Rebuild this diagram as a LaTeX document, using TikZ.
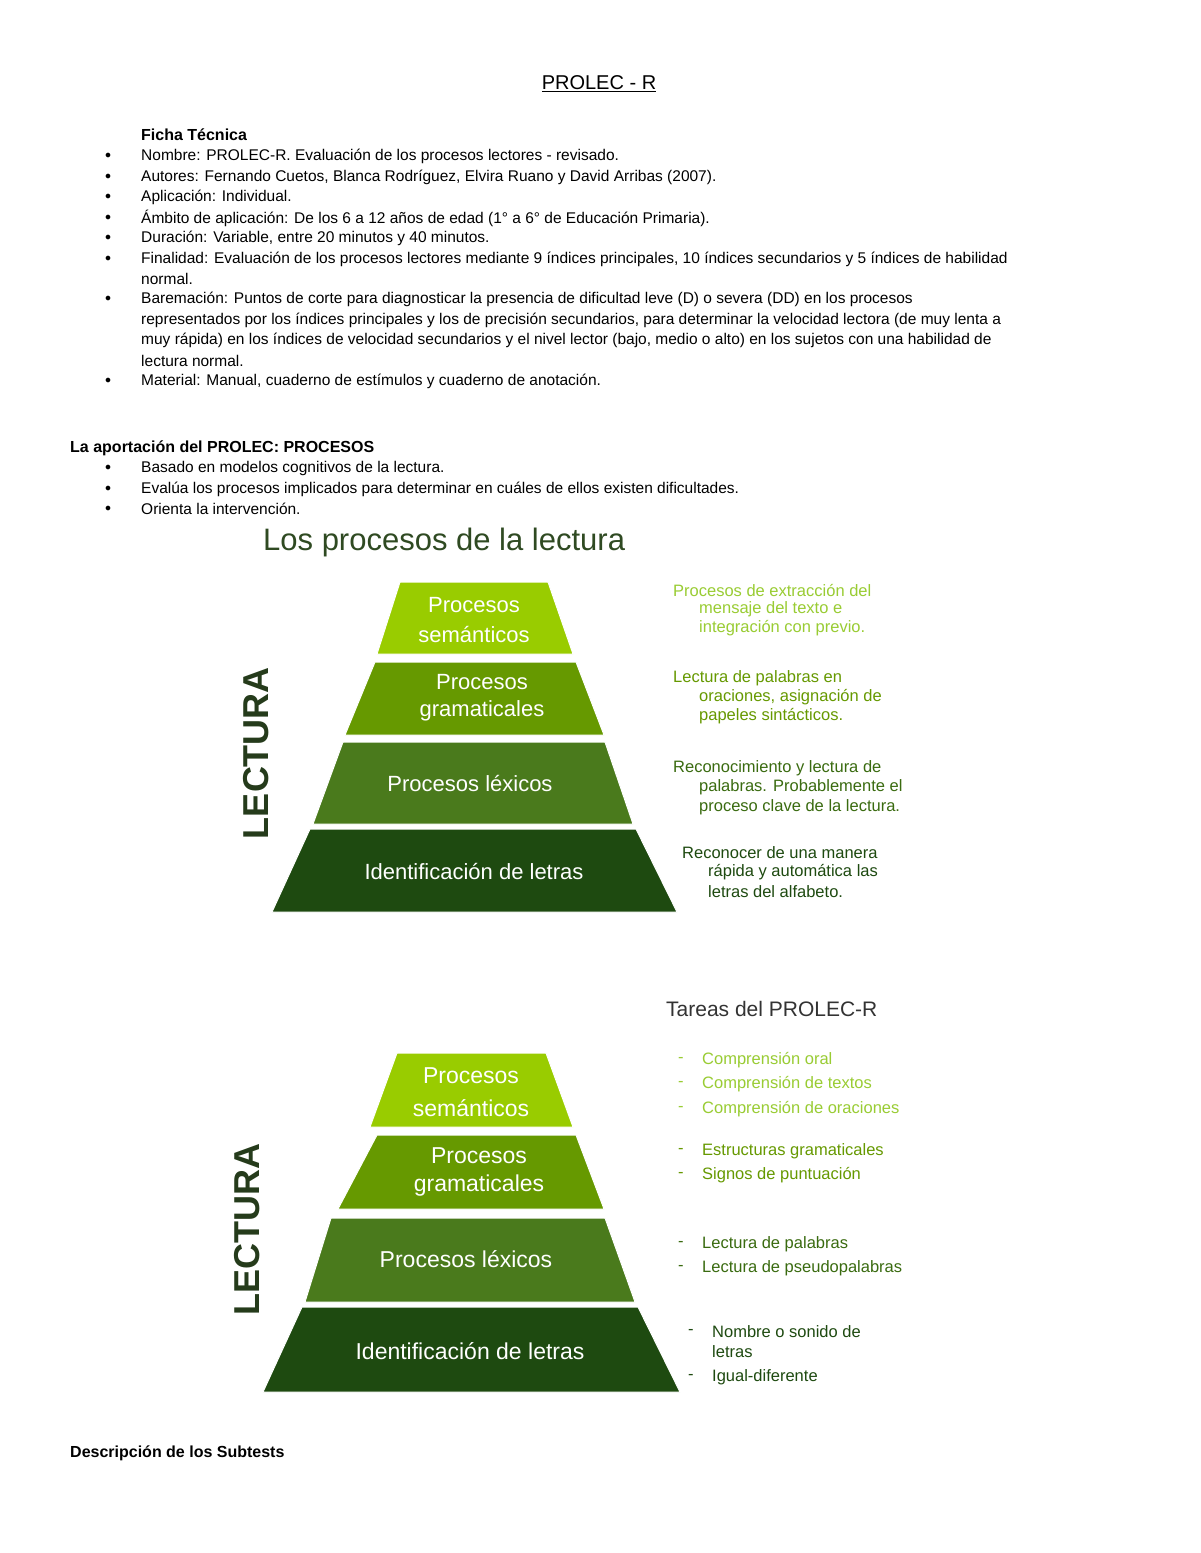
\documentclass[tikz,border=0pt]{standalone}
\usepackage{fontspec}
\setmainfont{Liberation Sans}
\definecolor{gA}{HTML}{99CC00}
\definecolor{gB}{HTML}{669900}
\definecolor{gC}{HTML}{4A7A1C}
\definecolor{gD}{HTML}{1E4A10}
\definecolor{tA}{HTML}{99CC33}
\definecolor{tB}{HTML}{669900}
\definecolor{tC}{HTML}{3A6B10}
\definecolor{tD}{HTML}{1E4A10}
\definecolor{ttl}{HTML}{2F4A22}
\begin{document}
\begin{tikzpicture}[x=1pt,y=-1pt,
  body/.style={anchor=west,inner sep=0pt,font=\fontsize{15.5}{18}\selectfont},
  side/.style={anchor=west,inner sep=0pt,font=\fontsize{16.5}{19}\selectfont},
  lvl/.style={draw=white,line width=1pt},
  lvltxt/.style={align=center,text=white,inner sep=0pt,font=\fontsize{22}{30}\selectfont},
  vert/.style={rotate=90,inner sep=0pt,font=\bfseries\fontsize{36}{36}\selectfont,text=ttl!80!black},
  bul/.style={inner sep=0pt,font=\fontsize{12}{12}\selectfont}]
\useasboundingbox (0,0) rectangle (1200,1553);
\fill[white] (0,0) rectangle (1200,1553);
\node[inner sep=0pt,font=\fontsize{20}{20}\selectfont] (title) at (599,84) {\underline{PROLEC - R}};
\node[body,font=\bfseries\fontsize{16}{18}\selectfont] (ficha) at (141,135) {Ficha Técnica};
\foreach \y/\t in {156/{Nombre: PROLEC-R. Evaluación de los procesos lectores - revisado.},
  177/{Autores: Fernando Cuetos, Blanca Rodríguez, Elvira Ruano y David Arribas (2007).},
  197/{Aplicación: Individual.},
  218/{Ámbito de aplicación: De los 6 a 12 años de edad (1° a 6° de Educación Primaria).},
  238/{Duración: Variable, entre 20 minutos y 40 minutos.},
  259/{Finalidad: Evaluación de los procesos lectores mediante 9 índices principales, 10 índices secundarios y 5 índices de habilidad},
  299/{Baremación: Puntos de corte para diagnosticar la presencia de dificultad leve (D) o severa (DD) en los procesos},
  381/{Material: Manual, cuaderno de estímulos y cuaderno de anotación.}}
  {\node[bul] at (108,\y) {$\bullet$}; \node[body] at (141,\y) {\t};}
\node[body] (n1) at (141,279) {normal.};
\node[body] (n2) at (141,320) {representados por los índices principales y los de precisión secundarios, para determinar la velocidad lectora (de muy lenta a};
\node[body] (n3) at (141,340) {muy rápida) en los índices de velocidad secundarios y el nivel lector (bajo, medio o alto) en los sujetos con una habilidad de};
\node[body] (n4) at (141,361) {lectura normal.};
\node[body,font=\bfseries\fontsize{16}{18}\selectfont] (apo) at (70,448) {La aportación del PROLEC: PROCESOS};
\foreach \y/\t in {468/{Basado en modelos cognitivos de la lectura.},
  489/{Evalúa los procesos implicados para determinar en cuáles de ellos existen dificultades.},
  509/{Orienta la intervención.}}
  {\node[bul] at (108,\y) {$\bullet$}; \node[body] at (141,\y) {\t};}
\node[anchor=west,inner sep=0pt,text=ttl,font=\fontsize{31}{31}\selectfont] (los) at (263,542) {Los procesos de la lectura};
% pyramid 1
\fill[gA,lvl] (400,582)--(548,582)--(573,654)--(377,654)--cycle;
\fill[gB,lvl] (375,662)--(576,662)--(604,735)--(345,735)--cycle;
\fill[gC,lvl] (343,742)--(605,742)--(633,824)--(313,824)--cycle;
\fill[gD,lvl] (310,829)--(636,829)--(677,912)--(272,912)--cycle;
\node[lvltxt] (p1a) at (474,620) {Procesos\\semánticos};
\node[lvltxt,font=\fontsize{22}{27}\selectfont] (p1b) at (482,698) {Procesos\\gramaticales};
\node[lvltxt] (p1c) at (470,783) {Procesos léxicos};
\node[lvltxt] (p1d) at (474,871) {Identificación de letras};
\node[vert] (lec1) at (256,753) {LECTURA};
\node[side,text=tA] at (673,590) {Procesos de extracción del};
\node[side,text=tA] at (699,609) {mensaje del texto e};
\node[side,text=tA] at (699,628) {integración con previo.};
\node[side,text=tB] at (673,678) {Lectura de palabras en};
\node[side,text=tB] at (699,697) {oraciones, asignación de};
\node[side,text=tB] at (699,716) {papeles sintácticos.};
\node[side,text=tC] at (673,768) {Reconocimiento y lectura de};
\node[side,text=tC] at (699,787) {palabras. Probablemente el};
\node[side,text=tC] at (699,807) {proceso clave de la lectura.};
\node[side,text=tD] at (682,853) {Reconocer de una manera};
\node[side,text=tD] at (708,872) {rápida y automática las};
\node[side,text=tD] at (708,892) {letras del alfabeto.};
% pyramid 2
\node[anchor=west,inner sep=0pt,text=black!80,font=\fontsize{21}{21}\selectfont] (tar) at (666,1009) {Tareas del PROLEC-R};
\fill[gA,lvl] (397,1053)--(546,1053)--(573,1127)--(370,1127)--cycle;
\fill[gB,lvl] (377,1135)--(576,1135)--(604,1209)--(338,1209)--cycle;
\fill[gC,lvl] (331,1218)--(605,1218)--(635,1302)--(305,1302)--cycle;
\fill[gD,lvl] (302,1307)--(638,1307)--(680,1392)--(263,1392)--cycle;
\node[lvltxt,font=\fontsize{23}{33}\selectfont] (p2a) at (471,1092) {Procesos\\semánticos};
\node[lvltxt,font=\fontsize{23}{28}\selectfont] (p2b) at (479,1172) {Procesos\\gramaticales};
\node[lvltxt,font=\fontsize{23}{28}\selectfont] (p2c) at (466,1259) {Procesos léxicos};
\node[lvltxt,font=\fontsize{23}{28}\selectfont] (p2d) at (470,1351) {Identificación de letras};
\node[vert] (lec2) at (247,1229) {LECTURA};
\foreach \y/\t/\c in {1060/Comprensión oral/tA,1084/Comprensión de textos/tA,1109/Comprensión de oraciones/tA,
  1151/Estructuras gramaticales/tB,1175/Signos de puntuación/tB,
  1244/Lectura de palabras/tC,1268/Lectura de pseudopalabras/tC}
  {\node[side,text=\c] at (678,\y) {-}; \node[side,text=\c] at (702,\y) {\t};}
\node[side,text=tD] at (688,1332) {-};
\node[side,text=tD] at (712,1332) {Nombre o sonido de};
\node[side,text=tD] at (712,1352) {letras};
\node[side,text=tD] at (688,1377) {-};
\node[side,text=tD] at (712,1377) {Igual-diferente};
\node[body,font=\bfseries\fontsize{16}{18}\selectfont] (desc) at (70,1453) {Descripción de los Subtests};
\end{tikzpicture}
\end{document}
